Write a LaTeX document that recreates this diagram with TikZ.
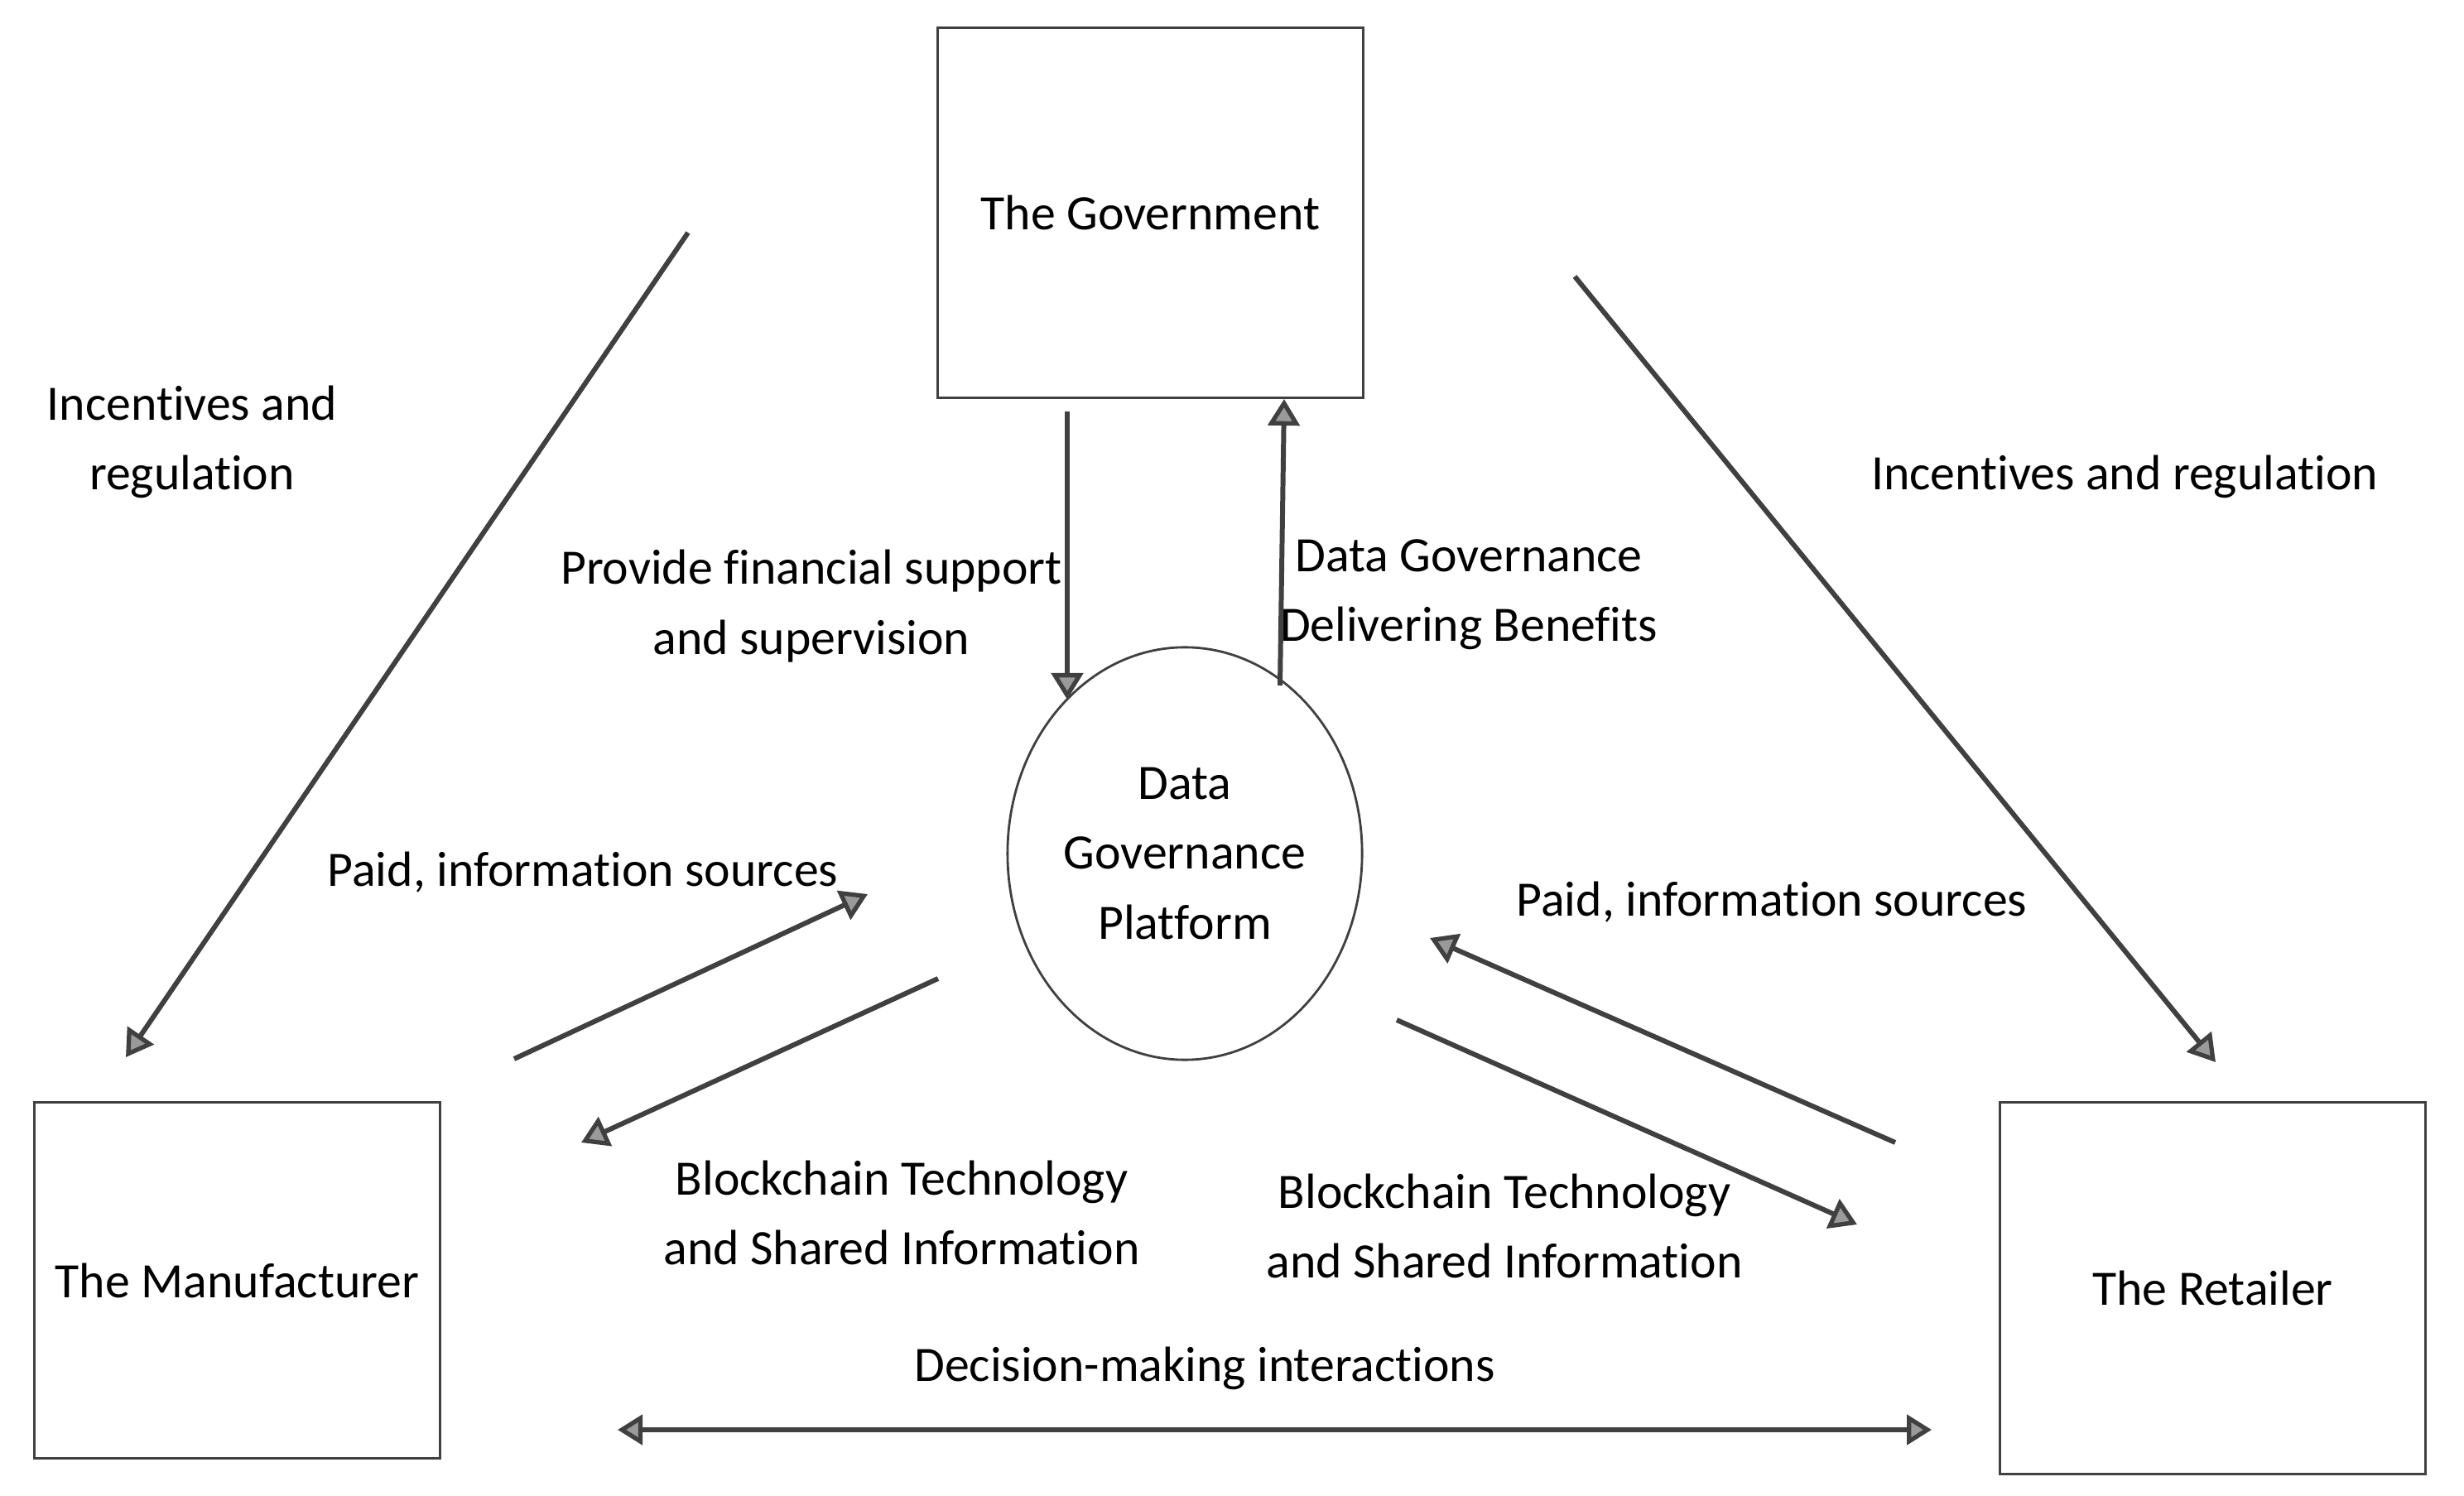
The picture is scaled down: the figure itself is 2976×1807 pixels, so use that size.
\documentclass[tikz,border=0pt]{standalone}
\usepackage{fontspec}
\setmainfont{Carlito}[Ligatures=NoCommon]
\usetikzlibrary{arrows.meta,shapes.geometric}
\definecolor{ln}{HTML}{404040}
\definecolor{tipfill}{HTML}{9A9A9A}
\tikzset{
  box/.style={draw=ln,line width=0.8pt,minimum width=#1,inner sep=0pt},
  tip/.style={},
  conn/.style={draw=ln,line width=1.7pt,-{Triangle[length=0.32cm,width=0.38cm,fill=tipfill,line width=1.5pt]}},
  biconn/.style={draw=ln,line width=1.7pt,{Triangle[length=0.3cm,width=0.36cm,fill=tipfill,line width=1.5pt]}-{Triangle[length=0.3cm,width=0.36cm,fill=tipfill,line width=1.5pt]}},
  lbl/.style={font=\fontsize{17}{24}\selectfont,align=center,inner sep=0pt,text=black},
}
\begin{document}
\begin{tikzpicture}[x=0.01cm,y=-0.01cm]
\useasboundingbox (0,0) rectangle (2976,1807);
\fill[white] (0,0) rectangle (2976,1807);
% boxes
\node[box=5.13cm,minimum height=4.46cm,lbl,draw=ln] (gov) at (1389.5,257) {The Government};
\node[box=4.89cm,minimum height=4.29cm,lbl,draw=ln] (man) at (286.5,1546.5) {The Manufacturer};
\node[box=5.13cm,minimum height=4.48cm,lbl,draw=ln] (ret) at (2672.5,1556) {The Retailer};
\node[ellipse,draw=ln,line width=0.8pt,minimum width=4.28cm,minimum height=4.98cm,inner sep=0pt,lbl] (plat) at (1431,1031) {Data\\Governance\\Platform};
% coordinates
\coordinate (a1s) at (831,281);   \coordinate (a1e) at (152,1277);
\coordinate (a2s) at (1902,334);  \coordinate (a2e) at (2676,1283);
\coordinate (a3s) at (1289,497);  \coordinate (a3e) at (1289,845);
\coordinate (a4s) at (1546,828);  \coordinate (a4e) at (1551,482);
\coordinate (a5s) at (621,1279);  \coordinate (a5e) at (1048,1080);
\coordinate (a6s) at (1133,1182); \coordinate (a6e) at (702,1380);
\coordinate (a7s) at (2289,1380); \coordinate (a7e) at (1727,1133);
\coordinate (a8s) at (1687,1232); \coordinate (a8e) at (2243,1479);
\coordinate (a9s) at (746,1727);  \coordinate (a9e) at (2333,1727);
% connectors
\draw[conn] (a1s) -- (a1e);
\draw[conn] (a2s) -- (a2e);
\draw[conn] (a3s) -- (a3e);
\draw[conn] (a4s) -- (a4e);
\draw[conn] (a5s) -- (a5e);
\draw[conn] (a6s) -- (a6e);
\draw[conn] (a7s) -- (a7e);
\draw[conn] (a8s) -- (a8e);
\draw[biconn] (a9s) -- (a9e);
% labels
\node[lbl] (l1) at (232,534) {Incentives and\\regulation};
\node[lbl] (l2) at (2566,576) {Incentives and regulation};
\node[lbl] (l3) at (980,732) {Provide financial support\\and supervision};
\node[lbl] (l4) at (1774,718) {Data Governance\\Delivering Benefits};
\node[lbl] (l5) at (704,1054) {Paid, information sources};
\node[lbl] (l6) at (2140,1090) {Paid, information sources};
\node[lbl] (l7) at (1089,1465) {Blockchain Technology\\and Shared Information};
\node[lbl] (l8) at (1817,1481) {Blockchain Technology\\and Shared Information};
\node[lbl] (l9) at (1455,1653) {Decision-making interactions};
\end{tikzpicture}
\end{document}
